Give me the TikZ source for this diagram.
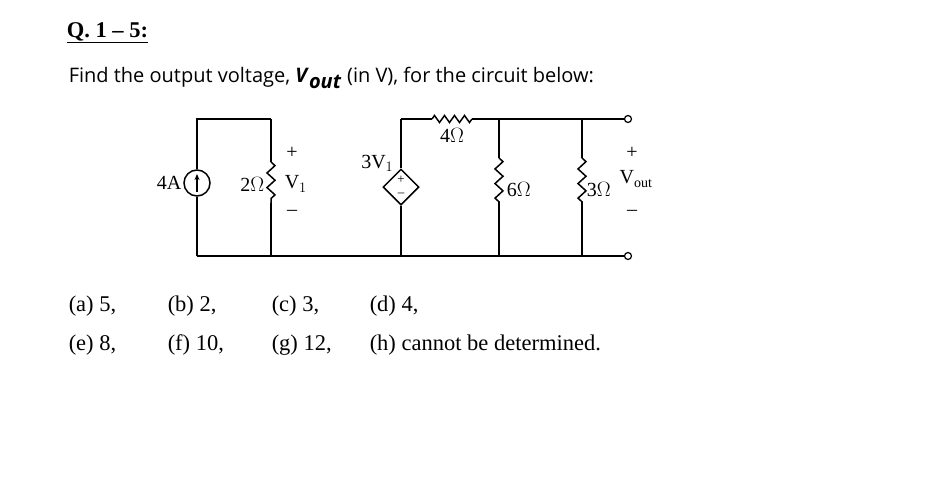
\documentclass[tikz,border=0pt]{standalone}
\usepackage{fontspec}
\setmainfont{Liberation Serif}
\newfontfamily\sansf{Open Sans}
\usetikzlibrary{decorations.pathmorphing,shapes.geometric,arrows.meta}
\begin{document}
\begin{tikzpicture}[x=1pt,y=-1pt,line width=1.5pt,
  res/.style={decorate,decoration={zigzag,segment length=14.6pt,amplitude=4pt}},
  lbl/.style={font=\fontsize{20}{20}\selectfont,inner sep=1pt},
  term/.style={circle,draw,fill=white,line width=1.2pt,minimum size=7pt,inner sep=0pt}]
\useasboundingbox (0,0) rectangle (938,477);
\node[anchor=base west,inner sep=0] (title) at (66,37) {\fontsize{22.5}{22}\selectfont\bfseries\underline{Q. 1 -- 5:}};
\node[anchor=base west,inner sep=0] (q) at (68,82) {\sansf\fontsize{20}{20}\selectfont Find the output voltage, \textbf{\textit{V}}$_{\textbf{\textit{out}}}$ (in V), for the circuit below:};
% coordinates
\coordinate (tl) at (197,119); \coordinate (bl) at (197,256);
\coordinate (t2) at (271,119); \coordinate (b2) at (271,256);
\coordinate (ts) at (401,119); \coordinate (bs) at (401,256);
\coordinate (t6) at (499,119); \coordinate (b6) at (499,256);
\coordinate (t3) at (582,119); \coordinate (b3) at (582,256);
\node[term] (ot) at (628,119) {};
\node[term] (ob) at (628,256) {};
% current source
\node[circle,draw,minimum size=26pt,inner sep=0] (cs) at (197,183) {};
\draw[-{Stealth[length=6pt,width=5pt]},line width=1.3pt] (197,192) -- (197,174);
\draw (bl) -- (cs.south) (cs.north) -- (tl) -- (t2);
\node[lbl,anchor=east] (l4a) at (183,183) {4A};
% 2 ohm
\coordinate (r2a) at (271,162); \coordinate (r2b) at (271,203);
\draw (t2) -- (r2a); \draw[res] (r2a) -- (r2b); \draw (r2b) -- (b2);
\node[lbl,anchor=east] (l2) at (266,184) {2$\Omega$};
\node[lbl] (p1) at (292,153) {+};
\node[lbl,anchor=west] (v1) at (283,184) {V$_1$};
\node[lbl] (m1) at (292,213) {--};
% dependent source
\node[diamond,draw,minimum size=36pt,inner sep=0] (ds) at (401,187) {};
\node[font=\fontsize{13}{13}\selectfont] (dp) at (401,180) {+};
\node[font=\fontsize{13}{13}\selectfont] (dm) at (401,195) {--};
\draw (bs) -- (ds.south) (ds.north) -- (ts);
\node[lbl,anchor=east] (l3v) at (395,163) {3V$_1$};
% 4 ohm
\coordinate (r4a) at (432,119); \coordinate (r4b) at (472,119);
\draw (ts) -- (r4a); \draw[res,decoration={amplitude=3.5pt,segment length=10pt}] (r4a) -- (r4b); \draw (r4b) -- (t6) -- (t3) -- (ot);
\node[lbl] (l4) at (452,135) {4$\Omega$};
% 6 ohm
\coordinate (r6a) at (499,158); \coordinate (r6b) at (499,202);
\draw (t6) -- (r6a); \draw[res] (r6a) -- (r6b); \draw (r6b) -- (b6);
\node[lbl,anchor=west] (l6) at (505,190) {6$\Omega$};
% 3 ohm
\coordinate (r3a) at (582,158); \coordinate (r3b) at (582,202);
\draw (t3) -- (r3a); \draw[res] (r3a) -- (r3b); \draw (r3b) -- (b3);
\node[lbl,anchor=west] (l3) at (585,190) {3$\Omega$};
\node[lbl] (p2) at (632,153) {+};
\node[lbl] (vo) at (636,179) {V$_{\mathrm{out}}$};
\node[lbl] (m2) at (632,213) {--};
\draw (bl) -- (ob);
% answers
\begin{scope}[every node/.style={anchor=base west,inner sep=0,font=\fontsize{22.5}{22}\selectfont}]
\node (a) at (68,311) {(a) 5,};
\node (b) at (167,311) {(b) 2,};
\node (c) at (271,311) {(c) 3,};
\node (d) at (369,311) {(d) 4,};
\node (e) at (68,350) {(e) 8,};
\node (f) at (167,350) {(f) 10,};
\node (g) at (271,350) {(g) 12,};
\node (h) at (369,350) {(h) cannot be determined.};
\end{scope}
\end{tikzpicture}
\end{document}
